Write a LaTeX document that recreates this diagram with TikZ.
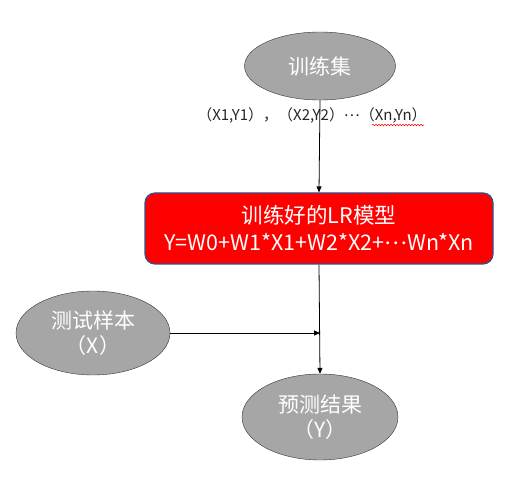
\documentclass[tikz,border=0pt]{standalone}
\usepackage{fontspec}
\setmainfont{Noto Sans CJK SC}
\usetikzlibrary{arrows.meta,shapes.geometric,decorations.pathmorphing}

\definecolor{ellgray}{HTML}{A6A6A6}
\definecolor{boxred}{HTML}{FF0000}
\definecolor{boxblue}{HTML}{2F528F}

\newcommand{\middots}{\raisebox{0.3em}{…}}

\tikzset{
  sample/.style={ellipse, draw=black!80, fill=ellgray, text=white, inner sep=0pt, align=center, font=\fontsize{21}{25}\selectfont},
  model/.style={rectangle, rounded corners=10pt, draw=boxblue, line width=1.2pt, fill=boxred, text=white, inner sep=0pt, align=center, minimum width=348pt, minimum height=71pt, font=\fontsize{21.5}{27}\selectfont},
  flow/.style={-{Triangle[length=6pt,width=5pt]}, black, line width=0.8pt},
  spell/.style={red, line width=0.5pt, decorate, decoration={snake, amplitude=0.8pt, segment length=3pt}}
}

\begin{document}
\begin{tikzpicture}[x=1pt,y=-1pt]

%Rahmen
\useasboundingbox (0,0) rectangle (517,478);

%Knoten
\node[sample, minimum width=151pt, minimum height=68pt] (train) at (320,66) {训练集};
\node[model] (lr) at (319,228.5) {训练好的LR模型\\Y=W0+W1*X1+W2*X2+\middots Wn*Xn};
\node[sample, minimum width=154pt, minimum height=84pt] (test) at (93,333) {测试样本\\（X）};
\node[sample, minimum width=156pt, minimum height=86pt] (pred) at (320,417) {预测结果\\（Y）};

%Beschriftung
\node[font=\fontsize{15}{18}\selectfont, text=black!85, inner sep=0pt] (pairs) at (312,116) {（X1,Y1），（X2,Y2）\middots（Xn,Yn）};

%Verbindungen
\coordinate (join) at (pred.north |- test.east);
\draw[flow] (train.south) -- (lr.north);
\draw[flow] (lr.south) -- (pred.north);
\draw[flow] (test.east) -- (join);

%Rechtschreibung
\draw[spell] (372,125) -- (424,125);
\draw[spell] (415,258) -- (480,258);

\end{tikzpicture}
\end{document}
